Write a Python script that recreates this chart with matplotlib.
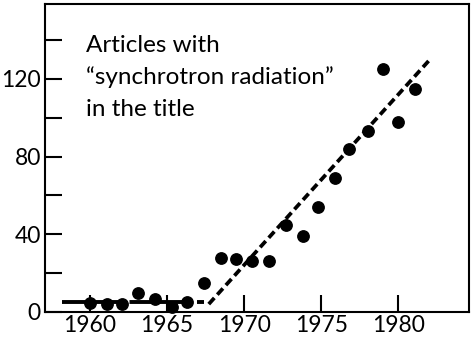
import matplotlib

matplotlib.use("Agg")
import matplotlib.pyplot as plt
from matplotlib.ticker import MultipleLocator

plt.rcParams["font.family"] = ["Lato", "DejaVu Sans"]
plt.rcParams["lines.scale_dashes"] = False

# articles per year
years = [1960.0, 1961.1, 1962.1, 1963.1, 1964.2, 1965.3, 1966.3, 1967.4,
         1968.5, 1969.5, 1970.5, 1971.6, 1972.7, 1973.8, 1974.8, 1975.9,
         1976.8, 1978.0, 1979.0, 1980.0, 1981.1]
counts = [4.5, 4, 4, 9.5, 6.5, 2.5, 5, 15, 28, 27, 26, 26, 45, 39, 54, 69,
          84, 93, 125, 98, 115]

# flat background level and growth trend
flat_x = [1958.2, 1967.4]
flat_y = [5, 5]
trend_x = [1967.7, 1982.1]
trend_y = [4, 130.5]

note = ["Articles with", "“synchrotron radiation”", "in the title"]

W, H = 474, 339
fig = plt.figure(figsize=(W / 100, H / 100), dpi=100)
ax = fig.add_axes([0.095, 0.080, 0.895, 0.908])

ax.plot(flat_x, flat_y, color="black", lw=2.8, dashes=(45, 3.6),
        solid_capstyle="butt", dash_capstyle="butt")
ax.plot(trend_x, trend_y, color="black", lw=2.7, dashes=(6, 3.2),
        dash_capstyle="butt")
ax.plot(years, counts, "o", color="black", ms=8.2, clip_on=False, zorder=3)

ax.set_xlim(1957.08, 1984.6)
ax.set_ylim(0, 158.6)
ax.xaxis.set_major_locator(MultipleLocator(5))
ax.yaxis.set_major_locator(MultipleLocator(40))
ax.yaxis.set_minor_locator(MultipleLocator(20))

ax.tick_params(axis="both", which="both", direction="in", width=1.5,
               labelsize=16.5, length=12)
ax.tick_params(axis="x", pad=2)
ax.tick_params(axis="y", pad=3)
for s in ax.spines.values():
    s.set_linewidth(1.5)

# annotation lines, baselines 32 px apart
for i, line in enumerate(note):
    fig.text(86 / W, 1 - (52 + 32 * i) / H, line, ha="left", va="baseline",
             fontsize=17.5)

fig.savefig("out.png", dpi=100)
